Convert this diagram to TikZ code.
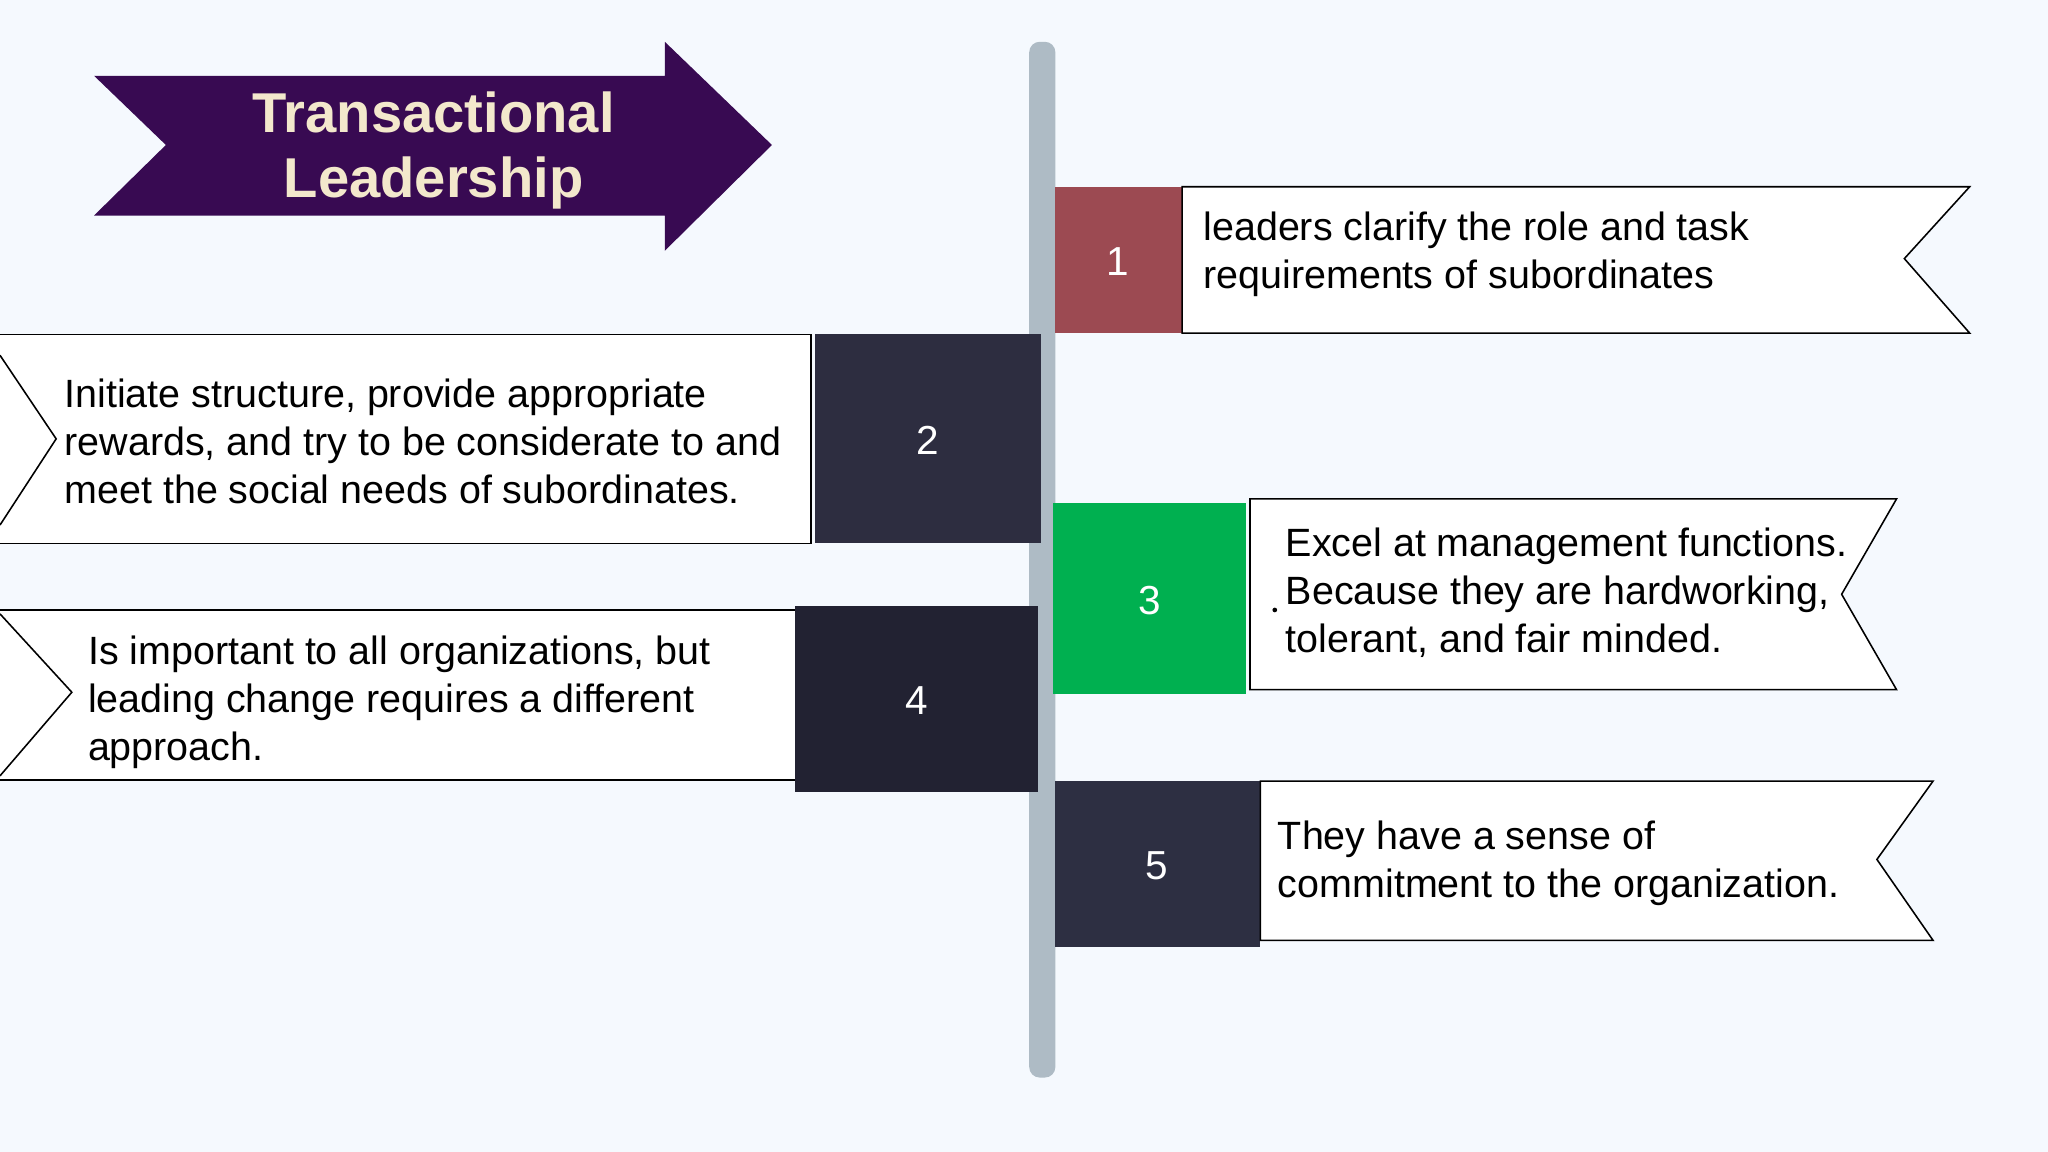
\documentclass[tikz,border=0pt]{standalone}
\usepackage{fontspec}
\setmainfont{Liberation Sans}
\definecolor{bg}{HTML}{F5F9FE}
\definecolor{pole}{HTML}{AEBBC5}
\definecolor{ttl}{HTML}{380A52}
\definecolor{cream}{HTML}{F3E8CC}
\definecolor{cA}{HTML}{9C4A52}
\definecolor{cB}{HTML}{2D2D40}
\definecolor{cC}{HTML}{00B050}
\definecolor{cD}{HTML}{222232}
\definecolor{cE}{HTML}{2D2F42}
\tikzset{
 banner/.style={fill=white,draw=black,line width=0.6pt},
 num/.style={text=white,font=\fontsize{15.5}{18}\selectfont},
 body/.style={anchor=west,align=left,inner sep=0pt,font=\fontsize{15.1}{18.4}\selectfont}
}
\begin{document}
\begin{tikzpicture}[x=0.5pt,y=-0.5pt]
\fill[bg] (0,0) rectangle (1568,882);
\useasboundingbox (0,0) rectangle (1568,882);
\fill[pole,rounded corners=4pt] (788,32) rectangle (808,825);
% title
\fill[ttl] (72,58)--(509,58)--(509,32)--(591,111)--(509,192)--(509,165)--(72,165)--(127,111)--cycle;
\node[text=cream,font=\bfseries\fontsize{21.5}{25}\selectfont,align=center] (title) at (332,115) {Transactional\\Leadership};
% 1
\fill[cA] (808,143) rectangle (905,255);
\node[num] (n1) at (856,200) {1};
\draw[banner] (905,143)--(1508,143)--(1458,198)--(1508,255)--(905,255)--cycle;
\node[body] (t1) at (921,195) {leaders clarify the role and task\\requirements of subordinates};
% 2
\fill[white] (0,256) rectangle (621,416);
\draw[line width=0.6pt] (0,256)--(621,256)--(621,416)--(0,416);
\draw[line width=0.6pt] (0,272)--(43,336)--(0,402);
\fill[cB] (624,256) rectangle (797,416);
\node[num] (n2) at (710,337) {2};
\node[body] (t2) at (49,338) {Initiate structure, provide appropriate\\rewards, and try to be considerate to and\\meet the social needs of subordinates.};
% 3
\fill[cC] (806,385) rectangle (954,531);
\node[num] (n3) at (880,460) {3};
\draw[banner] (957,382)--(1452,382)--(1410,455)--(1452,528)--(957,528)--cycle;
\node[body] (t3) at (984,454) {Excel at management functions.\\Because they are hardworking,\\tolerant, and fair minded.};
\fill (976,467) circle (1.8);
% 4
\fill[white] (0,467) rectangle (609,597);
\draw[line width=0.6pt] (0,467)--(609,467);
\draw[line width=0.6pt] (0,597)--(609,597);
\draw[line width=0.6pt] (0,470)--(55,530)--(0,594);
\fill[cD] (609,464) rectangle (795,606);
\node[num] (n4) at (702,536) {4};
\node[body] (t4) at (67,538) {Is important to all organizations, but\\leading change requires a different\\approach.};
% 5
\fill[cE] (808,598) rectangle (965,725);
\node[num] (n5) at (886,663) {5};
\draw[banner] (965,598)--(1480,598)--(1437,658)--(1480,720)--(965,720)--cycle;
\node[body] (t5) at (978,661) {They have a sense of\\commitment to the organization.};
\end{tikzpicture}
\end{document}
